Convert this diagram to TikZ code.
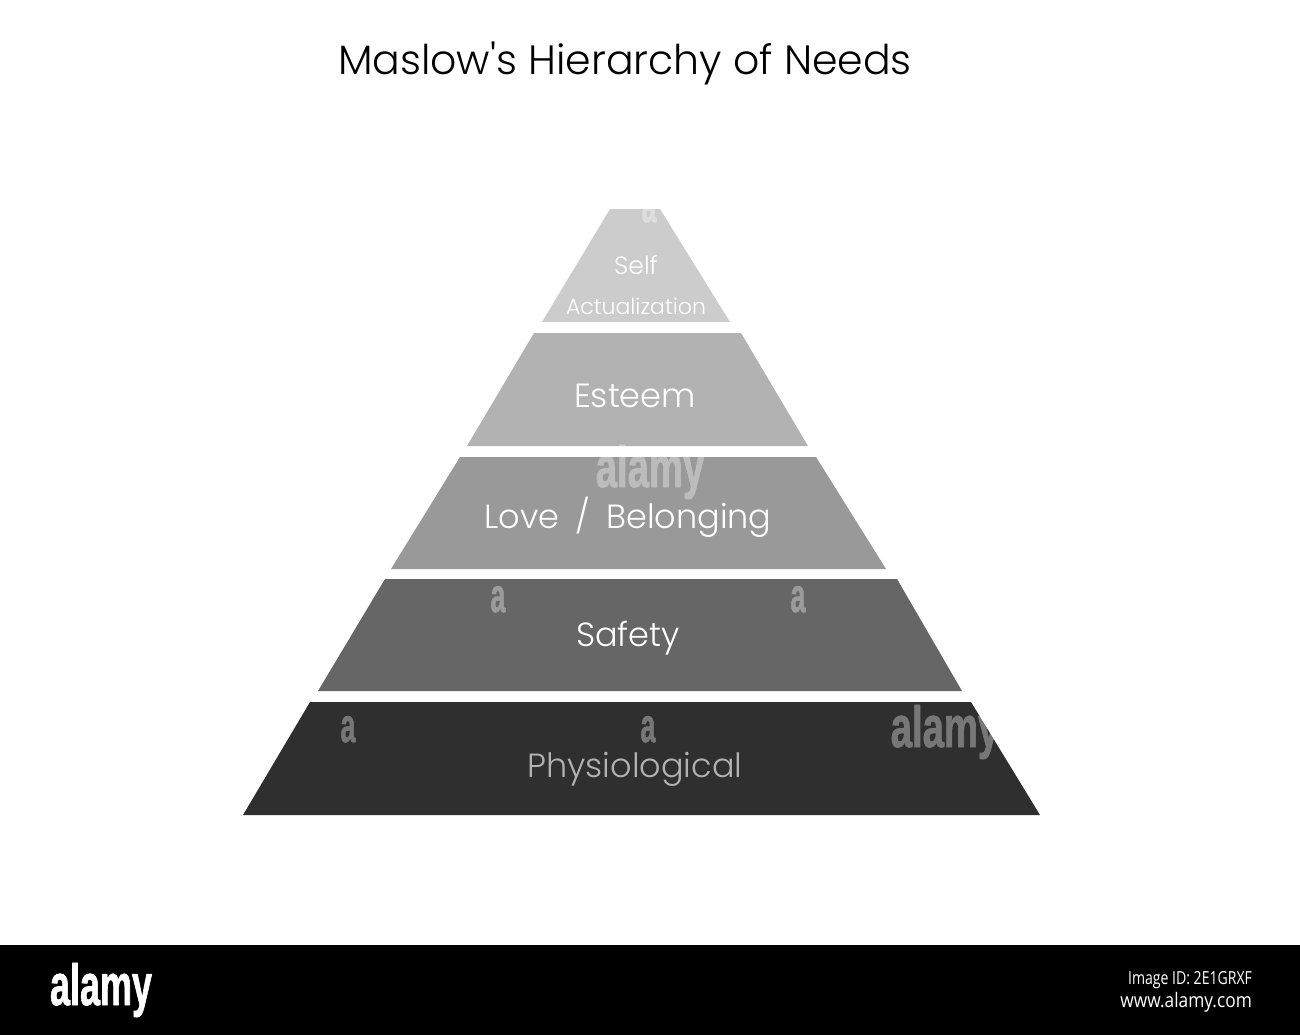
\documentclass[tikz,border=0pt]{standalone}
\usepackage{fontspec}
\setmainfont{Poppins Light}
\newfontfamily\titlefont{Poppins Light}
\newfontfamily\wmfont[FakeBold=1.6]{Liberation Sans Bold}
\newfontfamily\footfont{Open Sans}
\definecolor{lvA}{HTML}{CCCCCC}
\definecolor{lvB}{HTML}{B2B2B2}
\definecolor{lvC}{HTML}{999999}
\definecolor{lvD}{HTML}{666666}
\definecolor{lvE}{HTML}{2F2F2F}
\tikzset{
  tier/.style={draw=none},
  lab/.style={inner sep=0pt,anchor=center,text=white},
  wmA/.style={inner sep=0pt,anchor=base,text=white,font=\wmfont\fontsize{48}{48}\selectfont,xscale=.56},
  wmB/.style={inner sep=0pt,anchor=base,text=white,font=\wmfont\fontsize{58}{58}\selectfont,xscale=.66},
}
\begin{document}
\begin{tikzpicture}[x=1pt,y=-1pt]
\useasboundingbox (0,0) rectangle (1300,1035);
\fill[white] (0,0) rectangle (1300,1035);
\fill[black] (0,945) rectangle (1300,1035);
\node[lab,text=black,font=\titlefont\fontsize{41}{41}\selectfont] (title) at (625,63) {Maslow's Hierarchy of Needs};
\fill[tier,lvA] (610,209) -- (660,209) -- (730,322) -- (542,322) -- cycle;
\fill[tier,lvB] (534,333) -- (741,333) -- (808,446) -- (467,446) -- cycle;
\fill[tier,lvC] (460,457) -- (816,457) -- (886,569) -- (391,569) -- cycle;
\fill[tier,lvD] (385,579) -- (897,579) -- (962,691) -- (318,691) -- cycle;
\fill[tier,lvE] (310,702) -- (971,702) -- (1040,815) -- (243,815) -- cycle;
\begin{scope}[transparency group,opacity=.35]
\node[wmA] (wma) at (649,222) {a};
\node[wmB] (wmb) at (650,487) {alamy};
\node[wmA] (wmc) at (498,612) {a};
\node[wmA] (wmd) at (798,612) {a};
\node[wmA] (wme) at (348,742) {a};
\node[wmA] (wmf) at (648,742) {a};
\node[wmB] (wmg) at (945,747) {alamy};
\end{scope}
\node[lab,font=\fontsize{25}{25}\selectfont] (self) at (636,265) {Self};
\node[lab,font=\fontsize{22}{22}\selectfont] (act) at (636,306) {Actualization};
\node[lab,font=\fontsize{33.5}{33.5}\selectfont] (est) at (635,396) {Esteem};
\node[lab,font=\fontsize{33.5}{33.5}\selectfont] (love) at (628,517) {Love\hspace{7pt} /\hspace{7pt} Belonging};
\node[lab,font=\fontsize{33.5}{33.5}\selectfont] (safe) at (628,638) {Safety};
\node[lab,text=lvB,font=\fontsize{33.5}{33.5}\selectfont] (phys) at (635,769) {Physiological};
\node[inner sep=0pt,anchor=base,text=white,font=\wmfont\fontsize{58}{58}\selectfont,xscale=.62] (logo) at (101,1005) {alamy};
\node[inner sep=0pt,anchor=base east,text=white,font=\footfont\fontsize{18}{18}\selectfont,xscale=.78] (imgid) at (1252,984) {Image ID: 2E1GRXF};
\node[inner sep=0pt,anchor=base east,text=white,font=\footfont\fontsize{20}{20}\selectfont,xscale=.865] (url) at (1252,1007) {www.alamy.com};
\end{tikzpicture}
\end{document}
